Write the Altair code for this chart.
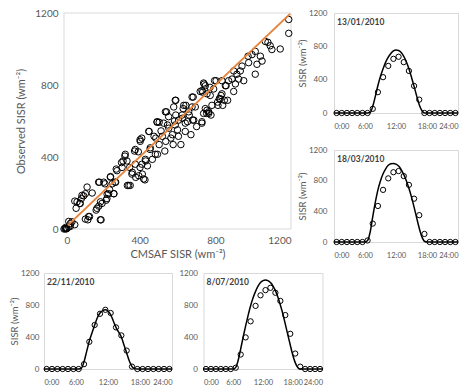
import altair as alt
import pandas as pd

# ---------------- scatter data (CMSAF vs observed SISR) ----------------
cmsaf = [0, 5, 10, 16, 25, 34, 8, 14, 25, 57, 33, 42,
         57, 64, 83, 92, 104, 113, 122, 149, 135, 126, 170, 184, 193, 187, 196,
         216, 223, 228, 241, 246, 255, 264, 273, 276, 304, 312, 322, 335, 347,
         350, 361, 373, 379, 393, 402, 402, 411, 414, 428, 432, 441, 450, 455,
         467, 476, 485, 494, 503, 503, 513, 520, 533, 538, 542, 547, 554, 565,
         573, 577, 584, 591, 591, 600, 605, 618, 626, 630, 641, 644, 653, 662,
         671, 680, 683, 694, 701, 729, 733, 741, 747, 754, 765, 772, 777, 804,
         812, 821, 830, 839, 848, 857, 865,
         1188, 1188, 1143, 1099, 1078, 1064, 1090, 1038, 1011, 994, 973, 1047,
         1020, 976, 1011, 941, 932, 914, 897, 888, 870, 923, 906, 950, 835, 796,
         897, 853, 835, 826, 814, 791, 773, 756, 747, 738, 729, 720, 782, 756,
         738, 765, 729, 677, 677, 659, 633, 588, 580, 624, 606, 536, 553, 492,
         527, 588, 641, 686,
         69, 86, 95, 130, 113, 192, 174, 201, 227, 236, 183, 210, 245, 271, 263,
         280, 307, 324, 333, 342, 359, 377, 377, 395, 403, 412, 421, 430, 448,
         456, 483, 492]
observed = [0, 3, 0, 4, 11, 15, 8, 2, 42, 24, 30, 40,
            155, 115, 142, 169, 184, 196, 233, 200, 69, 51, 105, 127, 151, 260, 51,
            251, 160, 193, 218, 291, 251, 196, 260, 333, 369, 378, 405, 242, 342,
            242, 315, 433, 287, 429, 342, 496, 505, 305, 273, 378, 351, 542, 442,
            387, 515, 505, 415, 469, 593, 545, 515, 433, 487, 651, 578, 560, 505,
            524, 469, 600, 715, 633, 551, 515, 469, 615, 669, 542, 687, 596, 633,
            524, 605, 733, 678, 569, 596, 760, 805, 669, 642, 651, 787, 633, 824,
            705, 724, 742, 687, 715, 796, 715,
            1164, 1087, 1000, 997, 1037, 1042, 1018, 960, 987, 969, 960, 933,
            915, 924, 860, 905, 878, 860, 878, 833, 824, 833, 806, 824, 824, 824,
            764, 796, 751, 724, 687, 778, 742, 751, 796, 811, 769, 764, 687, 660,
            642, 642, 588, 733, 678, 651, 687, 715, 678, 633, 605, 651, 624, 593,
            588, 578, 588, 605,
            151, 142, 187, 69, 55, 51, 115, 142, 169, 196, 260, 260, 288, 260, 196,
            324, 342, 415, 378, 242, 305, 360, 442, 296, 487, 360, 278, 387, 542,
            451, 415, 596]
line_x = [20, 1195]
line_y = [20, 1195]

# ---------------- daily panels ----------------
obs_t = [0.5, 1.5, 2.5, 3.5, 4.5, 5.5, 6.5, 7.5, 8.5, 9.5, 10.5, 11.5,
         12.5, 13.5, 14.5, 15.5, 16.5, 17.5, 18.5, 19.5, 20.5, 21.5, 22.5, 23.5]
curve_t = [0, 6, 6.5, 7, 7.5, 8, 8.5, 9, 9.5, 10, 10.5, 11, 11.5, 12, 12.5,
           13, 13.5, 14, 14.5, 15, 15.5, 16, 16.5, 17, 17.5, 18, 18.5, 19,
           19.5, 20, 24]

dates = ["13/01/2010", "18/03/2010", "22/11/2010", "8/07/2010"]

obs_jan = [0, 0, 0, 0, 0, 0, 0, 50, 250, 430, 565, 650,
           675, 610, 505, 325, 160, 0, 0, 0, 0, 0, 0, 0]
curve_jan = [0, 0, 0, 5, 80, 200, 330, 440, 530, 610, 670, 715, 745, 755, 750,
             725, 680, 615, 530, 430, 320, 205, 100, 30, 0, 0, 0, 0,
             0, 0, 0]

obs_mar = [0, 0, 0, 0, 0, 0, 20, 240, 470, 680, 830, 910,
           925, 860, 745, 565, 350, 105, 0, 0, 0, 0, 0, 0]
curve_mar = [0, 0, 20, 130, 330, 520, 680, 800, 890, 955, 1000, 1020, 1025,
             1015, 990, 945, 880, 800, 700, 585, 455, 315, 180, 70, 10, 0, 0,
             0, 0, 0, 0]

obs_nov = [0, 0, 0, 0, 0, 0, 0, 60, 340, 550, 690, 740,
           700, 520, 420, 230, 30, 0, 0, 0, 0, 0, 0, 0]
curve_nov = [0, 0, 0, 10, 90, 220, 350, 450, 550, 640, 700, 730, 740, 725,
             680, 600, 520, 460, 400, 300, 200, 100, 30, 5, 0, 0, 0, 0,
             0, 0, 0]

obs_jul = [0, 0, 0, 0, 0, 0, 16, 181, 395, 596, 789, 921,
           986, 1015, 953, 851, 674, 440, 193, 29, 0, 0, 0, 0]
curve_jul = [0, 0, 20, 110, 250, 400, 540, 670, 790, 890, 970, 1035, 1080,
             1105, 1112, 1105, 1080, 1040, 980, 900, 800, 690, 560, 430, 300,
             175, 80, 20, 0, 0, 0]

FONT = "Lato"
GRAY = "#595959"
FRAME = "#d9d9d9"


def panel(obs_v, curve_v, date, w, h, ytitle, ylp):
    df_o = pd.DataFrame({"t": obs_t, "v": obs_v})
    df_c = pd.DataFrame({"t": curve_t, "v": curve_v})
    x = alt.X("t:Q", scale=alt.Scale(domain=[0, 24], nice=False),
              axis=alt.Axis(values=[0, 6, 12, 18, 24],
                            labelExpr="datum.value + ':00'", title=None,
                            labelFontSize=7.5, labelPadding=9,
                            labelOverlap=False))
    yaxis = dict(values=[0, 400, 800, 1200], format="d", labelFontSize=8,
                 labelPadding=ylp, labelOverlap=False)
    if ytitle:
        yaxis.update(title="SISR (wm⁻²)", titleFontSize=9.5, titlePadding=1)
    else:
        yaxis.update(title=None)
    y = alt.Y("v:Q", scale=alt.Scale(domain=[0, 1200], nice=False),
              axis=alt.Axis(**yaxis))
    line = alt.Chart(df_c).mark_line(color="black", strokeWidth=1.5,
                                     interpolate="monotone").encode(x=x, y=y)
    pts = alt.Chart(df_o).mark_point(shape="circle", filled=False,
                                     color="black", opacity=1, size=28,
                                     strokeWidth=1).encode(x=x, y=y)
    txt = alt.Chart(pd.DataFrame({"d": [date]})).mark_text(
        align="left", baseline="top", fontWeight="bold", fontSize=8.5,
        color="#404040", font=FONT).encode(
        x=alt.value(3), y=alt.value(5), text="d:N")
    return alt.layer(line, pts, txt).properties(width=w, height=h)


df_s = pd.DataFrame({"x": cmsaf, "y": observed})
df_l = pd.DataFrame({"x": line_x, "y": line_y})
# the scatter group starts 20px left of its frame so that the lower-left
# panel can sit further left than the scatter plot
sx = alt.X("x:Q", scale=alt.Scale(domain=[0, 1200], range=[20, 247], nice=False),
           axis=alt.Axis(values=[0, 400, 800, 1200], format="d",
                         title="CMSAF SISR (wm⁻²)",
                         labelFontSize=10, titleFontSize=11, labelPadding=6,
                         titlePadding=3, labelOverlap=False))
sy = alt.Y("y:Q", scale=alt.Scale(domain=[0, 1200], nice=False),
           axis=alt.Axis(values=[0, 200, 400, 600, 800, 1000, 1200], format="d",
                         title="Observed SISR (wm⁻²)", labelFontSize=10,
                         titleFontSize=11, labelPadding=6, titlePadding=8,
                         offset=-20, labelOverlap=False))
frame = alt.Chart(pd.DataFrame({"f": [0]})).mark_rect(
    filled=False, stroke=FRAME, strokeWidth=1).encode(
    x=alt.datum(0, scale=alt.Scale(domain=[0, 1200], range=[20, 247], nice=False)),
    x2=alt.datum(1200), y=alt.datum(0), y2=alt.datum(1200))
scatter = alt.layer(
    frame,
    alt.Chart(df_s).mark_point(shape="circle", filled=False, color="black",
                               opacity=1, size=42, strokeWidth=1).encode(x=sx, y=sy),
    alt.Chart(df_l).mark_line(color="#E8843A", strokeWidth=2).encode(x=sx, y=sy),
).properties(width=247, height=216, view=alt.ViewBackground(stroke=None))

p1 = panel(obs_jan, curve_jan, dates[0], 124, 100, True, 7)
p2 = panel(obs_mar, curve_mar, dates[1], 124, 92, True, 7)
p3 = panel(obs_nov, curve_nov, dates[2], 128, 96, True, 5)
p4 = panel(obs_jul, curve_jul, dates[3], 119, 96, False, 6)

right_col = alt.vconcat(p1, p2, spacing=15)
row1 = alt.hconcat(scatter, right_col, spacing=1)
row2 = alt.hconcat(p3, p4, spacing=1.5)

chart = alt.vconcat(row1, row2, spacing=9).properties(
    padding=0, background="white"
).configure_view(stroke=FRAME, strokeWidth=1).configure_axis(
    ticks=False, domain=False, grid=False, labelColor=GRAY, titleColor=GRAY,
    labelFont=FONT, titleFont=FONT, titleFontWeight="normal"
)

chart.save("out.html", embed_options={"renderer": "svg", "actions": False})
